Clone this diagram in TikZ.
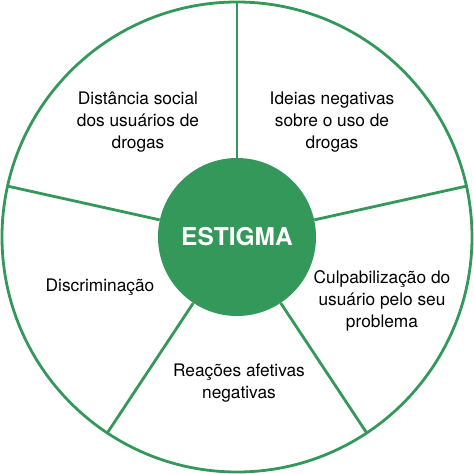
\documentclass[tikz,border=0pt]{standalone}
\usepackage{fontspec}
\setmainfont{TeX Gyre Heros}
\usepackage{tikz}
\usetikzlibrary{positioning}
\definecolor{stgreen}{RGB}{52,152,90}

\begin{document}
\begin{tikzpicture}[
    x=1pt, y=1pt,
    part/.style = {align=center, font=\fontsize{17.3}{21.7}\selectfont, text=black},
    core/.style = {circle, fill=stgreen, minimum size=158pt, inner sep=0pt, text=white, font=\fontsize{24.5}{26}\selectfont\bfseries},
    spoke/.style = {draw=stgreen, line width=2.8pt}
]
\useasboundingbox (-237,-237) rectangle (237,237);
\draw[spoke] (0,0) circle (235);

\node (stigma) [core] at (0,0) {ESTIGMA};

\coordinate (s1) at (90:236);
\coordinate (s2) at (12.5:236);
\coordinate (s3) at (-56.5:236);
\coordinate (s4) at (-123.5:236);
\coordinate (s5) at (167.5:236);

\draw[spoke] (stigma) to (s1);
\draw[spoke] (stigma) to (s2);
\draw[spoke] (stigma) to (s3);
\draw[spoke] (stigma) to (s4);
\draw[spoke] (stigma) to (s5);

\node (dist) [part] at (-99,115) {Distância social\\dos usuários de\\drogas};
\node (ideias) [part] at (95,115) {Ideias negativas\\sobre o uso de\\drogas};
\node (culpa) [part] at (145,-64) {Culpabilização do\\usuário pelo seu\\problema};
\node (reac) [part] at (2,-146) {Reações afetivas\\negativas};
\node (discr) [part] at (-137,-50) {Discriminação};
\end{tikzpicture}
\end{document}
